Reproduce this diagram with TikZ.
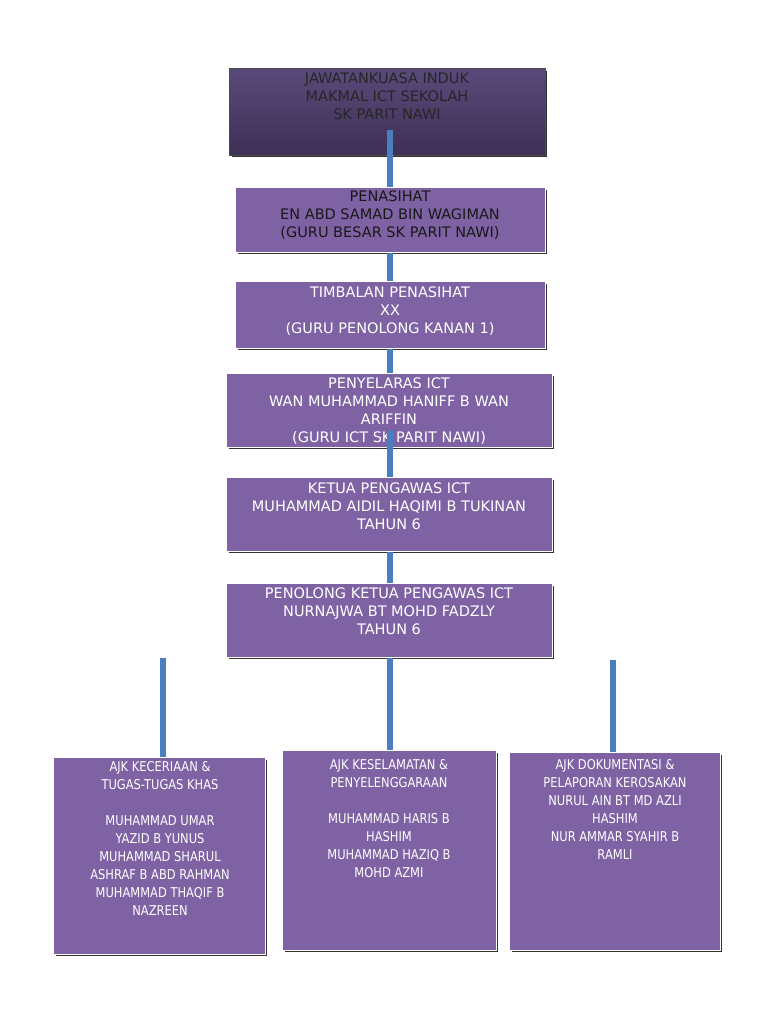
\documentclass[tikz,border=0pt]{standalone}
\usepackage{fontspec}
\setmainfont{DejaVu Sans}
\newfontfamily\condf{DejaVu Sans}[FakeStretch=0.85]
\begin{document}
\definecolor{boxp}{HTML}{7E62A3}
\definecolor{darkt}{HTML}{5A4A7A}
\definecolor{darkb}{HTML}{3E2F56}
\definecolor{conn}{HTML}{4A7EBF}
\begin{tikzpicture}[x=1pt,y=-1pt,
  box/.style={draw=white,line width=1pt,fill=boxp,inner sep=0pt,anchor=north west},
  txt/.style={align=center,font=\fontsize{14.5}{18}\selectfont,inner sep=0pt,anchor=north},
  btxt/.style={align=center,font=\condf\fontsize{13.5}{18}\selectfont,inner sep=0pt,anchor=north,text=white},
  con/.style={draw=conn,line width=6pt}]
\useasboundingbox (0,0) rectangle (768,1024);
\fill[white] (0,0) rectangle (768,1024);
% shadows
\foreach \a/\b/\c/\d in {229/68/545/155,235/187/545/252,235/281/545/348,226/373/552/447,226/477/552/551,226/583/552/657,53/757/265/954,282/750/496/950,509/752/720/950}
  \fill[black!80] (\a+3,\b+3) rectangle (\c+2,\d+2);
% boxes
\node[draw=black!70,top color=darkt,bottom color=darkb,minimum width=316pt,minimum height=87pt,inner sep=0pt,anchor=north west] (b1) at (229,68) {};
\node[box,minimum width=310pt,minimum height=65pt] (b2) at (235,187) {};
\node[box,minimum width=310pt,minimum height=67pt] (b3) at (235,281) {};
\node[box,minimum width=326pt,minimum height=74pt] (b4) at (226,373) {};
\node[box,minimum width=326pt,minimum height=74pt] (b5) at (226,477) {};
\node[box,minimum width=326pt,minimum height=74pt] (b6) at (226,583) {};
\node[box,minimum width=212pt,minimum height=197pt] (l) at (53,757) {};
\node[box,minimum width=214pt,minimum height=200pt] (m) at (282,750) {};
\node[box,minimum width=211pt,minimum height=198pt] (r) at (509,752) {};
% texts
\node[txt,text=black!85] (t1) at (387,73) {JAWATANKUASA INDUK\\MAKMAL ICT SEKOLAH\\SK PARIT NAWI};
\node[txt,text=black!90] (t2) at (390,191) {PENASIHAT\\EN ABD SAMAD BIN WAGIMAN\\(GURU BESAR SK PARIT NAWI)};
\node[txt,text=white] (t3) at (390,287) {TIMBALAN PENASIHAT\\XX\\(GURU PENOLONG KANAN 1)};
\begin{scope}
\clip (226,373) rectangle (552,445);
\node[txt,text=white] (t4) at (389,378) {PENYELARAS ICT\\WAN MUHAMMAD HANIFF B WAN\\ARIFFIN\\(GURU ICT SK PARIT NAWI)};
\end{scope}
\node[txt,text=white] (t5) at (389,483) {KETUA PENGAWAS ICT\\MUHAMMAD AIDIL HAQIMI B TUKINAN\\TAHUN 6};
\node[txt,text=white] (t6) at (389,588) {PENOLONG KETUA PENGAWAS ICT\\NURNAJWA BT MOHD FADZLY\\TAHUN 6};
\node[btxt] (tl) at (160,761) {AJK KECERIAAN \&\\TUGAS-TUGAS KHAS\\[18pt]MUHAMMAD UMAR\\YAZID B YUNUS\\MUHAMMAD SHARUL\\ASHRAF B ABD RAHMAN\\MUHAMMAD THAQIF B\\NAZREEN};
\node[btxt] (tm) at (389,759) {AJK KESELAMATAN \&\\PENYELENGGARAAN\\[18pt]MUHAMMAD HARIS B\\HASHIM\\MUHAMMAD HAZIQ B\\MOHD AZMI};
\node[btxt] (tr) at (615,759) {AJK DOKUMENTASI \&\\PELAPORAN KEROSAKAN\\NURUL AIN BT MD AZLI\\HASHIM\\NUR AMMAR SYAHIR B\\RAMLI};
% connectors
\coordinate (c1) at (390,130);
\coordinate (c4) at (390,430);
\coordinate (cl) at (163,658);
\coordinate (cr) at (613,660);
\draw[con] (c1) -- (b2.north -| c1);
\draw[con] (b2.south -| c1) -- (b3.north -| c1);
\draw[con] (b3.south -| c1) -- (b4.north -| c1);
\draw[con] (c4) -- (b5.north -| c1);
\draw[con] (b5.south -| c1) -- (b6.north -| c1);
\draw[con] (b6.south -| c1) -- (m.north -| c1);
\draw[con] (cl) -- (l.north -| cl);
\draw[con] (cr) -- (r.north -| cr);
\end{tikzpicture}
\end{document}
